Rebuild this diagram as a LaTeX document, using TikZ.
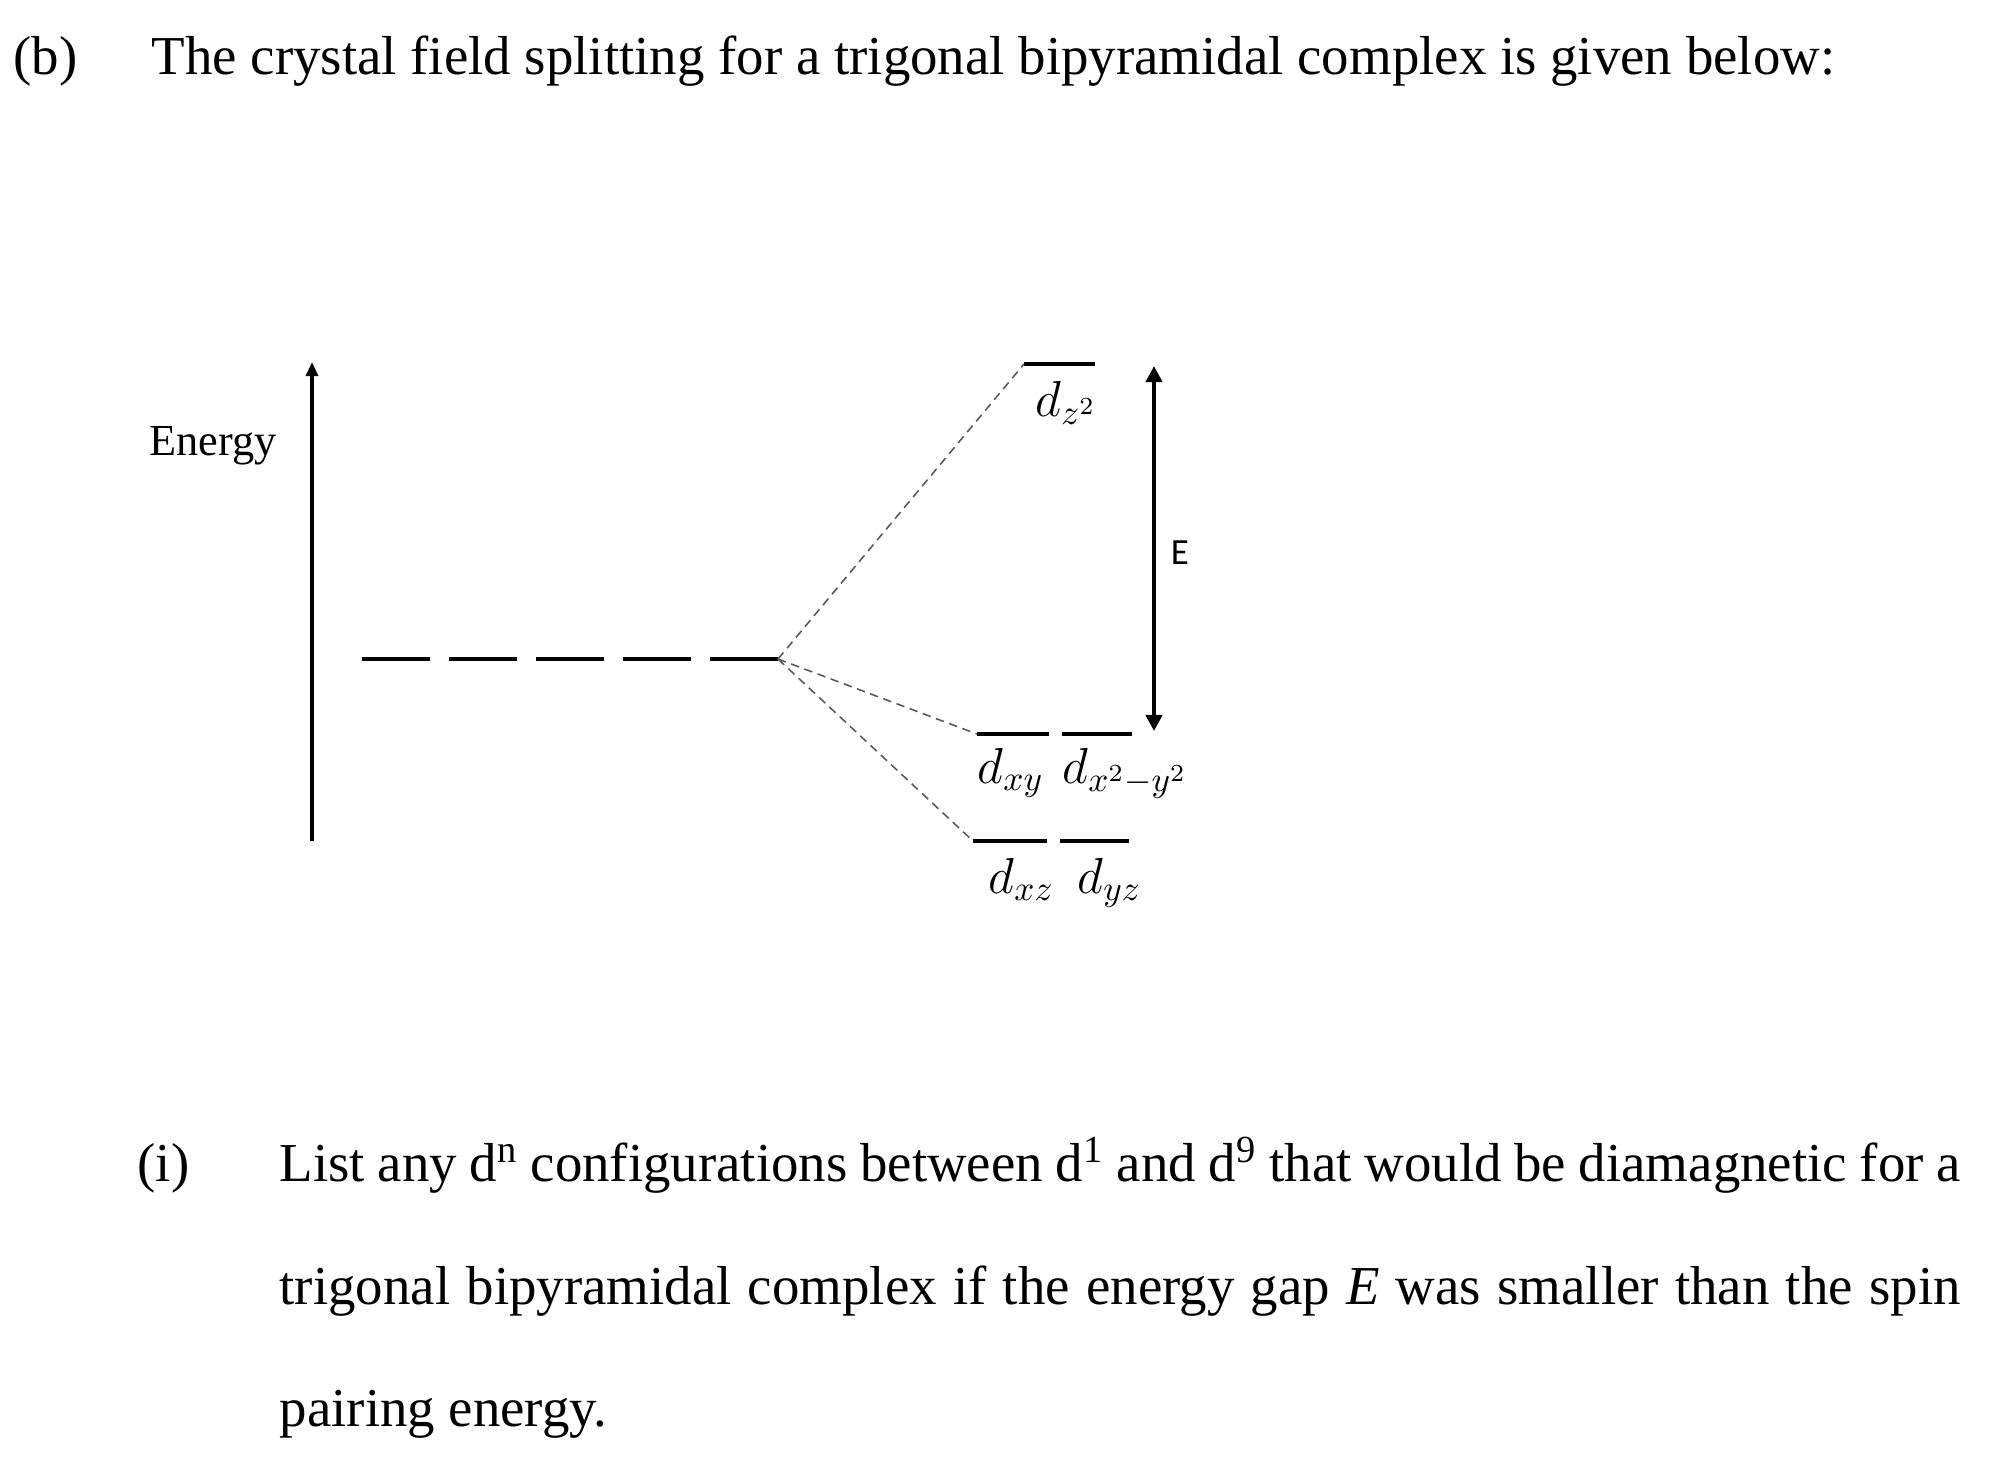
\documentclass[tikz,border=0pt]{standalone}
\usepackage{fontspec}
\setmainfont{Liberation Serif}
\newfontfamily\carlito{Carlito}
\usetikzlibrary{arrows.meta}
\begin{document}
\begin{tikzpicture}[x=0.01cm,y=-0.01cm,
  txt/.style={anchor=base west, inner sep=0pt, font=\fontsize{15.6}{18}\selectfont},
  level/.style={line width=1.4pt},
  conn/.style={draw=black!65, line width=0.45pt, dash pattern=on 2.4pt off 1.6pt},
  lbl/.style={anchor=base west, inner sep=0pt, font=\fontsize{14}{16}\selectfont},
  axis/.style={line width=1.1pt, -{Triangle[length=4pt,width=3.4pt]}},
  gap/.style={line width=1.4pt, {Triangle[length=4.6pt,width=4.6pt]}-{Triangle[length=4.6pt,width=4.6pt]}}
]
\useasboundingbox (0,0) rectangle (2008,1468);
% title
\node[txt] (b) at (13,74) {(b)};
\node[txt] (title) at (151,74) {The crystal field splitting for a trigonal bipyramidal complex is given below:};
% energy axis
\node[txt, font=\fontsize{12.6}{15}\selectfont] (energy) at (149,455) {Energy};
\coordinate (ax0) at (312,841);
\coordinate (ax1) at (312,362);
\draw[axis] (ax0) -- (ax1);
% degenerate level
\coordinate (deg0) at (362,659);
\coordinate (deg1) at (778,659);
\draw[level, dash pattern=on 0.68cm off 0.19cm] (deg0) -- (deg1);
% split levels
\coordinate (z0) at (1024,364); \coordinate (z1) at (1095,364);
\coordinate (xy0) at (977,734); \coordinate (xy1) at (1049,734);
\coordinate (x20) at (1062,734); \coordinate (x21) at (1132,734);
\coordinate (xz0) at (973,841); \coordinate (xz1) at (1047,841);
\coordinate (yz0) at (1060,841); \coordinate (yz1) at (1129,841);
\draw[level] (z0) -- (z1);
\draw[level] (xy0) -- (xy1);
\draw[level] (x20) -- (x21);
\draw[level] (xz0) -- (xz1);
\draw[level] (yz0) -- (yz1);
% connectors
\draw[conn] (deg1) -- (z0);
\draw[conn] (deg1) -- (xy0);
\draw[conn] (deg1) -- (xz0);
% labels
\node[lbl] (lz) at (1035,416) {$d_{z^2}$};
\node[lbl] (lxy) at (977,783) {$d_{xy}$};
\node[lbl] (lx2) at (1062,783) {$d_{x^2-y^2}$};
\node[lbl] (lxz) at (988,893) {$d_{xz}$};
\node[lbl] (lyz) at (1077,893) {$d_{yz}$};
% gap arrow
\coordinate (e0) at (1154,366);
\coordinate (e1) at (1154,731);
\draw[gap] (e0) -- (e1);
\node[inner sep=0pt, font=\carlito\fontsize{10.5}{12}\selectfont] (E) at (1180,553) {E};
% question
\node[txt] (i) at (137,1181) {(i)};
\node[txt] (q1) at (279,1181) {\makebox[16.8cm][s]{List any d\textsuperscript{n} configurations between d\textsuperscript{1} and d\textsuperscript{9} that would be diamagnetic for a}};
\node[txt] (q2) at (279,1304) {\makebox[16.8cm][s]{trigonal bipyramidal complex if the energy gap \textit{E} was smaller than the spin}};
\node[txt] (q3) at (279,1426) {pairing energy.};
\end{tikzpicture}
\end{document}
